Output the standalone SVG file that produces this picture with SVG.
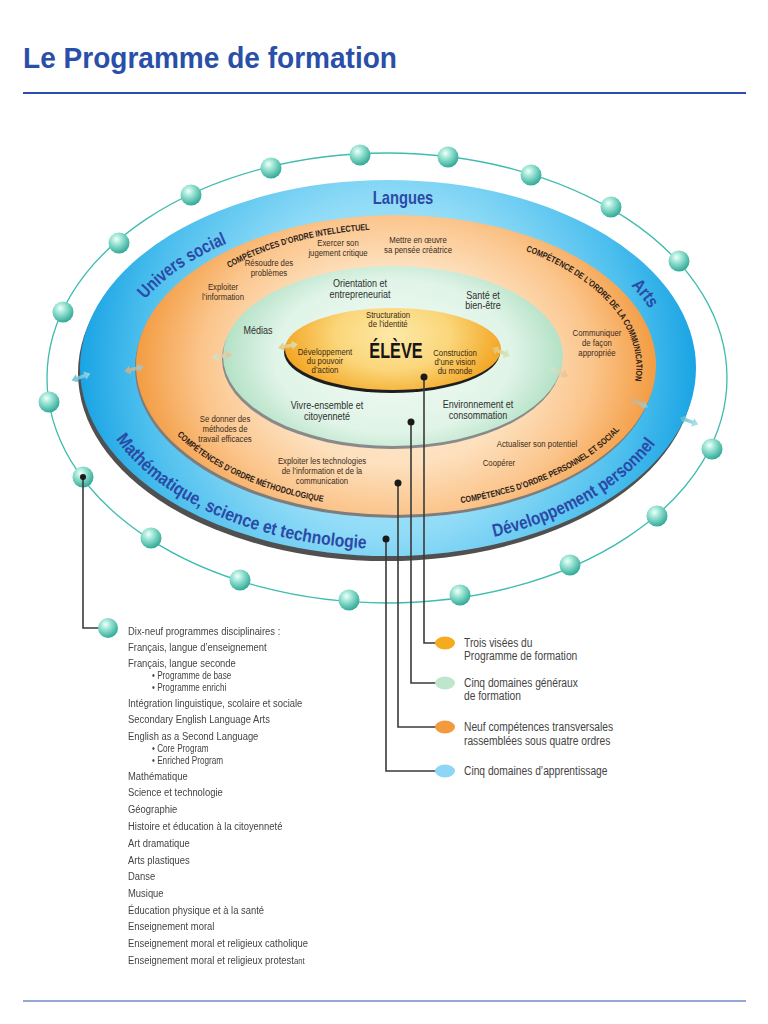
<svg xmlns="http://www.w3.org/2000/svg" xmlns:xlink="http://www.w3.org/1999/xlink" width="768" height="1024" viewBox="0 0 768 1024">
<style>
.n{font-family:"Liberation Sans",Arial,sans-serif}
.title{font-family:"Liberation Sans",Arial,sans-serif;font-weight:bold;font-size:29px;fill:#2a4fa8}
.dom{font-weight:bold;font-size:18px;fill:#2b4aa6}
.cap{font-weight:bold;font-size:8.8px;fill:#2a2018}
.or{font-size:9.5px;fill:#3a2c20;text-anchor:middle}
.gr{font-size:11px;fill:#2e2e2e;text-anchor:middle}
.ye{font-size:9.5px;fill:#3a2a14;text-anchor:middle}
.lg{font-size:12.5px;fill:#444}
.ls{font-size:11.5px;fill:#444}
.lb{font-size:10px;fill:#444}
.con{fill:none;stroke:#3a3a3a;stroke-width:1.6}
.dot{fill:#1a1a1a}
.sph{fill:url(#gSph)}
</style>
<defs>
<radialGradient id="gBlue" gradientUnits="userSpaceOnUse" cx="0" cy="0" r="1" gradientTransform="translate(388,368) scale(308,330)">
<stop offset="0" stop-color="#c8effc"/><stop offset="0.5" stop-color="#92dcf7"/><stop offset="0.8" stop-color="#4dbfee"/><stop offset="1" stop-color="#1aa4e4"/>
</radialGradient>
<radialGradient id="gOr" gradientUnits="userSpaceOnUse" cx="0" cy="0" r="1" gradientTransform="translate(396,365) scale(260,200)">
<stop offset="0" stop-color="#fff0dc"/><stop offset="0.5" stop-color="#fde0bd"/><stop offset="0.75" stop-color="#fbc58c"/><stop offset="1" stop-color="#f39c42"/>
</radialGradient>
<radialGradient id="gGr" gradientUnits="userSpaceOnUse" cx="0" cy="0" r="1" gradientTransform="translate(393,356) scale(170,110)">
<stop offset="0" stop-color="#f4fbf6"/><stop offset="0.7" stop-color="#e0f4e7"/><stop offset="1" stop-color="#b3e1c5"/>
</radialGradient>
<radialGradient id="gYe" gradientUnits="userSpaceOnUse" cx="0" cy="0" r="1" gradientTransform="translate(393,335) scale(115,70)">
<stop offset="0" stop-color="#fde9a8"/><stop offset="0.5" stop-color="#fbd67a"/><stop offset="1" stop-color="#f2a21c"/>
</radialGradient>
<radialGradient id="gSph" cx="0.38" cy="0.32" r="0.7">
<stop offset="0" stop-color="#f2fffb"/><stop offset="0.35" stop-color="#9fe6d6"/><stop offset="1" stop-color="#2ea896"/>
</radialGradient>
<linearGradient id="ga1"><stop offset="0" stop-color="#5ab8cc"/><stop offset="1" stop-color="#a6dde4"/></linearGradient>
<linearGradient id="ga2"><stop offset="0" stop-color="#e8a870"/><stop offset="1" stop-color="#8ccfe2"/></linearGradient>
<linearGradient id="ga3"><stop offset="0" stop-color="#c8ead8"/><stop offset="1" stop-color="#f0bc8a"/></linearGradient>
<linearGradient id="ga4"><stop offset="0" stop-color="#eec070"/><stop offset="1" stop-color="#cfeac4"/></linearGradient>
<path id="arr" d="M-10,0 L-4,-4.5 L-4,-1.8 L4,-1.8 L4,-4.5 L10,0 L4,4.5 L4,1.8 L-4,1.8 L-4,4.5 Z"/>
<path id="pUnivers" d="M124,333 A271,155 0 0 1 265,230"/>
<path id="pArts" d="M579,247 A280,165 0 0 1 666,348"/>
<path id="pMath" d="M116,439 A295,181 0 0 0 439,546"/>
<path id="pDev" d="M494,537 A295,181 0 0 0 678,399"/>
<path id="pIntel" d="M229,268 A240,138 0 0 1 438,231"/>
<path id="pComm" d="M523,250 A240,138 0 0 1 628,403"/>
<path id="pMeth" d="M177,435 A250,141 0 0 0 439,506"/>
<path id="pPers" d="M461,503 A250,141 0 0 0 642,392"/>
</defs>

<rect width="768" height="1024" fill="#ffffff"/>

<g id="header">
<text class="title" x="23" y="68" textLength="374" lengthAdjust="spacingAndGlyphs">Le Programme de formation</text>
<line x1="23" y1="93" x2="746" y2="93" stroke="#2a4fa8" stroke-width="2"/>
<line x1="23" y1="1001" x2="746" y2="1001" stroke="#2a4fa8" stroke-width="1"/>
</g>

<g id="programmes">
<ellipse cx="387" cy="378" rx="340" ry="225" fill="none" stroke="#3fbcae" stroke-width="1.3"/>
<circle class="sph" cx="360" cy="155" r="10.5"/>
<circle class="sph" cx="448" cy="157" r="10.5"/>
<circle class="sph" cx="531" cy="175" r="10.5"/>
<circle class="sph" cx="611" cy="207" r="10.5"/>
<circle class="sph" cx="679" cy="261" r="10.5"/>
<circle class="sph" cx="712" cy="449" r="10.5"/>
<circle class="sph" cx="657" cy="516" r="10.5"/>
<circle class="sph" cx="570" cy="565" r="10.5"/>
<circle class="sph" cx="460" cy="595" r="10.5"/>
<circle class="sph" cx="349" cy="600" r="10.5"/>
<circle class="sph" cx="240" cy="580" r="10.5"/>
<circle class="sph" cx="151" cy="538" r="10.5"/>
<circle class="sph" cx="83" cy="477" r="10.5"/>
<circle class="sph" cx="49" cy="402" r="10.5"/>
<circle class="sph" cx="63" cy="312" r="10.5"/>
<circle class="sph" cx="119" cy="243" r="10.5"/>
<circle class="sph" cx="191" cy="195" r="10.5"/>
<circle class="sph" cx="271" cy="168" r="10.5"/>
</g>

<g id="domaines-apprentissage">
<ellipse cx="386" cy="373" rx="308" ry="188" fill="#505050"/>
<ellipse cx="388" cy="368" rx="308" ry="188" fill="url(#gBlue)"/>
<text class="n dom" transform="translate(403,204) scale(0.82,1)" text-anchor="middle">Langues</text>
<text class="n dom"><textPath href="#pUnivers" startOffset="50%" text-anchor="middle" textLength="100" lengthAdjust="spacingAndGlyphs">Univers social</textPath></text>
<text class="n dom"><textPath href="#pArts" startOffset="58%" text-anchor="middle" textLength="30" lengthAdjust="spacingAndGlyphs">Arts</textPath></text>
<text class="n dom"><textPath href="#pMath" textLength="282" lengthAdjust="spacingAndGlyphs">Mathématique, science et technologie</textPath></text>
<text class="n dom"><textPath href="#pDev" textLength="190" lengthAdjust="spacingAndGlyphs">Développement personnel</textPath></text>
</g>

<g id="competences">
<ellipse cx="395" cy="368" rx="260" ry="150" fill="#7d7d7d"/>
<ellipse cx="396" cy="365" rx="260" ry="150" fill="url(#gOr)"/>
<text class="n cap"><textPath href="#pIntel" textLength="147" lengthAdjust="spacingAndGlyphs">COMPÉTENCES D’ORDRE INTELLECTUEL</textPath></text>
<text class="n cap"><textPath href="#pComm" startOffset="3" textLength="184" lengthAdjust="spacingAndGlyphs">COMPÉTENCE DE L’ORDRE DE LA COMMUNICATION</textPath></text>
<text class="n cap"><textPath href="#pMeth" textLength="163" lengthAdjust="spacingAndGlyphs">COMPÉTENCES D’ORDRE MÉTHODOLOGIQUE</textPath></text>
<text class="n cap"><textPath href="#pPers" textLength="178" lengthAdjust="spacingAndGlyphs">COMPÉTENCES D’ORDRE PERSONNEL ET SOCIAL</textPath></text>
<g transform="scale(0.82,1)">
<text class="n or" x="412.2" y="246">Exercer son</text>
<text class="n or" x="412.2" y="256">jugement critique</text>
<text class="n or" x="509.8" y="243">Mettre en œuvre</text>
<text class="n or" x="509.8" y="253">sa pensée créatrice</text>
<text class="n or" x="328" y="266">Résoudre des</text>
<text class="n or" x="328" y="276">problèmes</text>
<text class="n or" x="272" y="290">Exploiter</text>
<text class="n or" x="272" y="300">l’information</text>
<text class="n or" x="728" y="336">Communiquer</text>
<text class="n or" x="728" y="346">de façon</text>
<text class="n or" x="728" y="356">appropriée</text>
<text class="n or" x="274.4" y="422">Se donner des</text>
<text class="n or" x="274.4" y="432">méthodes de</text>
<text class="n or" x="274.4" y="442">travail efficaces</text>
<text class="n or" x="392.7" y="464">Exploiter les technologies</text>
<text class="n or" x="392.7" y="474">de l’information et de la</text>
<text class="n or" x="392.7" y="484">communication</text>
<text class="n or" x="654.9" y="447">Actualiser son potentiel</text>
<text class="n or" x="608.5" y="466">Coopérer</text>
</g>
</g>

<g id="domaines-generaux">
<ellipse cx="392" cy="359" rx="170" ry="90" fill="#8a8a8a"/>
<ellipse cx="393" cy="356" rx="170" ry="90" fill="url(#gGr)"/>
<g transform="scale(0.82,1)">
<text class="n gr" x="439" y="287">Orientation et</text>
<text class="n gr" x="439" y="298">entrepreneuriat</text>
<text class="n gr" x="589" y="299">Santé et</text>
<text class="n gr" x="589" y="309">bien-être</text>
<text class="n gr" x="314.6" y="334">Médias</text>
<text class="n gr" x="398.8" y="409">Vivre-ensemble et</text>
<text class="n gr" x="398.8" y="420">citoyenneté</text>
<text class="n gr" x="582.9" y="408">Environnement et</text>
<text class="n gr" x="582.9" y="419">consommation</text>
</g>
</g>

<g id="eleve">
<ellipse cx="392" cy="352" rx="108" ry="41" fill="#1e1e1e"/>
<ellipse cx="393" cy="349" rx="108" ry="41" fill="url(#gYe)"/>
<text class="n" transform="translate(396,358) scale(0.74,1)" text-anchor="middle" font-weight="bold" font-size="22" fill="#161616">ÉLÈVE</text>
<g transform="scale(0.82,1)">
<text class="n ye" x="473.2" y="318" font-size="8.5">Structuration</text>
<text class="n ye" x="473.2" y="327" font-size="8.5">de l’identité</text>
<text class="n ye" x="396.3" y="355">Développement</text>
<text class="n ye" x="396.3" y="364">du pouvoir</text>
<text class="n ye" x="396.3" y="373">d’action</text>
<text class="n ye" x="554.9" y="356">Construction</text>
<text class="n ye" x="554.9" y="365">d’une vision</text>
<text class="n ye" x="554.9" y="374">du monde</text>
</g>
</g>

<g id="arrows" opacity="0.85">
<use href="#arr" transform="translate(81,377) rotate(-20)" fill="url(#ga1)"/>
<use href="#arr" transform="translate(134,369) rotate(-15)" fill="url(#ga2)"/>
<use href="#arr" transform="translate(222,356) rotate(-10)" fill="url(#ga3)"/>
<use href="#arr" transform="translate(288,346) rotate(-10)" fill="url(#ga4)"/>
<use href="#arr" transform="translate(501,352) rotate(25)" fill="url(#ga4)"/>
<use href="#arr" transform="translate(559,372) rotate(25)" fill="url(#ga3)"/>
<use href="#arr" transform="translate(639,403) rotate(25)" fill="url(#ga2)"/>
<use href="#arr" transform="translate(689,421) rotate(20)" fill="url(#ga1)"/>
</g>

<g id="connectors">
<path class="con" d="M424,377 V643 H436"/>
<path class="con" d="M411,422 V683 H436"/>
<path class="con" d="M398,483 V727 H436"/>
<path class="con" d="M386,539 V771 H436"/>
<path class="con" d="M83,477 V628 H100"/>
<circle class="dot" cx="424" cy="377" r="3.5"/>
<circle class="dot" cx="411" cy="422" r="3.5"/>
<circle class="dot" cx="398" cy="483" r="3.5"/>
<circle class="dot" cx="386" cy="539" r="3.5"/>
<circle class="dot" cx="83" cy="477" r="3"/>
</g>

<g id="legend-visees">
<ellipse cx="445" cy="643" rx="10" ry="6.5" fill="#f5ab1e"/>
<g transform="translate(464,0) scale(0.82,1)">
<text class="n lg" x="0" y="647">Trois visées du</text>
<text class="n lg" x="0" y="660">Programme de formation</text>
</g>
</g>
<g id="legend-dgf">
<ellipse cx="445" cy="683" rx="10" ry="6.5" fill="#bfe6cc"/>
<g transform="translate(464,0) scale(0.82,1)">
<text class="n lg" x="0" y="687">Cinq domaines généraux</text>
<text class="n lg" x="0" y="700">de formation</text>
</g>
</g>
<g id="legend-competences">
<ellipse cx="445" cy="727" rx="10" ry="6.5" fill="#f39a3e"/>
<g transform="translate(464,0) scale(0.82,1)">
<text class="n lg" x="0" y="731">Neuf compétences transversales</text>
<text class="n lg" x="0" y="745">rassemblées sous quatre ordres</text>
</g>
</g>
<g id="legend-domaines">
<ellipse cx="445" cy="771" rx="10" ry="6.5" fill="#8ed6f6"/>
<g transform="translate(464,0) scale(0.82,1)">
<text class="n lg" x="0" y="775">Cinq domaines d’apprentissage</text>
</g>
</g>

<g id="legend-programmes">
<circle class="sph" cx="108" cy="628" r="10"/>
<g transform="translate(128,0) scale(0.82,1)">
<text class="n ls" x="0" y="635" font-size="13">Dix-neuf programmes disciplinaires :</text>
<text class="n ls" x="0" y="651">Français, langue d’enseignement</text>
<text class="n ls" x="0" y="667">Français, langue seconde</text>
<text class="n lb" x="29.3" y="679">• Programme de base</text>
<text class="n lb" x="29.3" y="691">• Programme enrichi</text>
<text class="n ls" x="0" y="707">Intégration linguistique, scolaire et sociale</text>
<text class="n ls" x="0" y="723">Secondary English Language Arts</text>
<text class="n ls" x="0" y="740">English as a Second Language</text>
<text class="n lb" x="29.3" y="752">• Core Program</text>
<text class="n lb" x="29.3" y="764">• Enriched Program</text>
<text class="n ls" x="0" y="780">Mathématique</text>
<text class="n ls" x="0" y="796">Science et technologie</text>
<text class="n ls" x="0" y="813">Géographie</text>
<text class="n ls" x="0" y="830">Histoire et éducation à la citoyenneté</text>
<text class="n ls" x="0" y="847">Art dramatique</text>
<text class="n ls" x="0" y="864">Arts plastiques</text>
<text class="n ls" x="0" y="880">Danse</text>
<text class="n ls" x="0" y="897">Musique</text>
<text class="n ls" x="0" y="914">Éducation physique et à la santé</text>
<text class="n ls" x="0" y="930">Enseignement moral</text>
<text class="n ls" x="0" y="947">Enseignement moral et religieux catholique</text>
<text class="n ls" x="0" y="964">Enseignement moral et religieux protest<tspan font-size="9.5">ant</tspan></text>
</g>
</g>
</svg>
